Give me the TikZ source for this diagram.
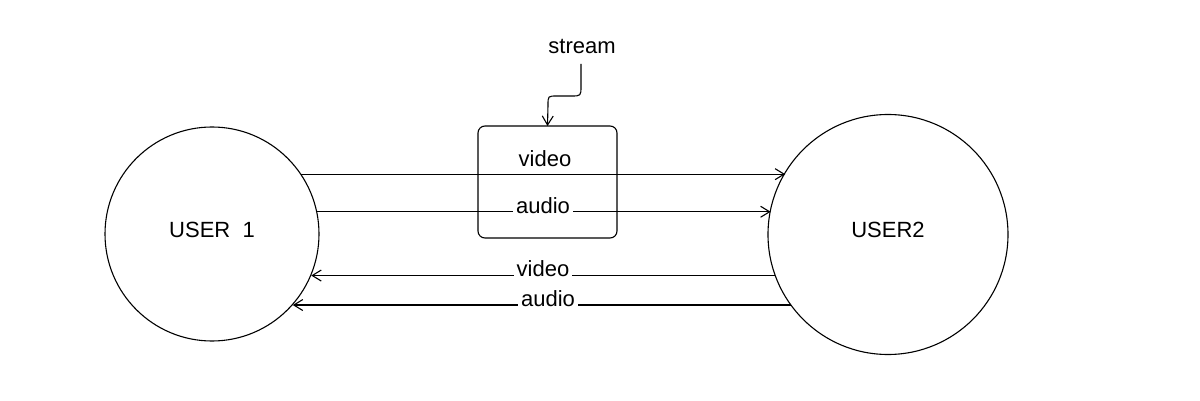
\documentclass[tikz,border=0pt]{standalone}
\usepackage{fontspec}
\setmainfont{Liberation Sans}
\usetikzlibrary{arrows.meta}
\begin{document}
\begin{tikzpicture}[x=1pt,y=-1pt,
  every node/.style={font=\fontsize{22}{26}\selectfont},
  user/.style={draw=black,line width=1.1pt,circle,inner sep=0pt,outer sep=0pt},
  box/.style={draw=black,line width=1.1pt,rounded corners=7pt,inner sep=0pt,outer sep=0pt,minimum width=139pt,minimum height=112pt},
  conn/.style={draw=black,line width=1.1pt,-{Straight Barb[length=9pt,width=11pt,line width=1.1pt]}},
  lbl/.style={fill=white,inner xsep=3pt,inner ysep=1pt}]
\useasboundingbox (0,0) rectangle (1200,401);
\node[user,minimum size=214pt] (u1) at (212,234) {};
\node[user,minimum size=240pt] (u2) at (888,234.5) {};
\node at (212,230) {USER\ \ 1};
\node at (888,230) {USER2};
\node[box] (bx) at (547.5,182) {};
\node (st) at (582,46) {stream};
\coordinate (s0) at (581,64);
\draw[conn] (s0) -- (581,86) .. controls (581,96) .. (571,96) -- (557,96) .. controls (548,96) .. (548,105) -- (bx.north);
\node (vt) at (545,159) {video};
% user1 -> user2
\draw[conn] (u1.34.8) -- (u1.34.8 -| u2.149.2);
\draw[conn] (u1.12.4) -- (u1.12.4 -| u2.168.7);
% user2 -> user1
\draw[conn] (u2.-160.3) -- (u2.-160.3 -| u1.-22.5);
\draw[conn] (u2.-144) -- (u2.-144 -| u1.-41.6);
\node[lbl] (a1) at (543,206) {audio};
\node[lbl] (v2) at (543,269) {video};
\node[lbl] (a2) at (548,299) {audio};
\end{tikzpicture}
\end{document}
